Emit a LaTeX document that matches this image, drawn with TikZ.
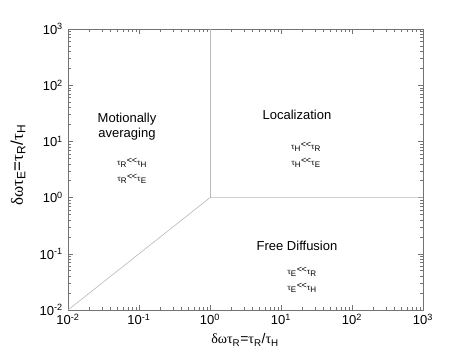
\documentclass[tikz,border=0pt]{standalone}
\usepackage{fontspec}
\setmainfont{Liberation Sans}
\newfontfamily\grk{Liberation Serif}
\usetikzlibrary{positioning}

\tikzset{
  frame/.style={draw=black!55, line width=0.6pt},
  tick/.style={draw=black!55, line width=0.5pt},
  bound/.style={draw=black!28, line width=0.6pt},
  ticklab/.style={font=\fontsize{13}{15}\selectfont, inner sep=1pt},
  axlab/.style={font=\fontsize{14}{16}\selectfont, inner sep=0pt},
  region/.style={font=\fontsize{13}{15}\selectfont, align=center, inner sep=0pt},
  rel/.style={font=\fontsize{11.5}{16}\selectfont, align=center, inner sep=0pt},
}
\newcommand{\dec}[1]{10\textsuperscript{#1}}
\newcommand{\rlt}[2]{{\grk\small τ}\textsubscript{#1}\raisebox{0.3ex}{\small{<}\kern-0.5pt{<}}{\grk\small τ}\textsubscript{#2}}

\begin{document}
\begin{tikzpicture}[x=1pt,y=-1pt]
\useasboundingbox (0,0) rectangle (474,358);
\begin{scope}[shift={(68,310)},x=71pt,y=56.2pt]
  % axes box
  \draw[frame] (0,0) rectangle (5,5);
  % ticks
  \foreach \k in {1,...,4} {
    \draw[tick] (\k,0) -- ++(0pt,5pt);
    \draw[tick] (\k,5) -- ++(0pt,-5pt);
    \draw[tick] (0,\k) -- ++(5pt,0pt);
    \draw[tick] (5,\k) -- ++(-5pt,0pt);
  }
  \foreach \k in {0,...,4} {
    \foreach \m in {2,...,9} {
      \pgfmathsetmacro\t{\k+log10(\m)}
      \draw[tick] (\t,0) -- ++(0pt,3pt);
      \draw[tick] (\t,5) -- ++(0pt,-3pt);
      \draw[tick] (0,\t) -- ++(3pt,0pt);
      \draw[tick] (5,\t) -- ++(-3pt,0pt);
    }
  }
  % tick labels
  \foreach \k/\e in {0/-2,1/-1,2/0,3/1,4/2,5/3} {
    \node[ticklab, below=3pt] (xl\k) at (\k,0) {\dec{\e}};
    \node[ticklab, left=4pt] (yl\k) at (0,\k) {\dec{\e}};
  }
  % regime boundaries
  \coordinate (lo) at (0,0);
  \coordinate (c) at (2,2);
  \coordinate (rt) at (5,2);
  \coordinate (up) at (2,5);
  \draw[bound] (lo) -- (c) -- (rt);
  \draw[bound] (c) -- (up);
\end{scope}

% axis labels
\node[axlab] (xlab) at (245,340) {{\grk δωτ}\textsubscript{R}={\grk τ}\textsubscript{R}/{\grk τ}\textsubscript{H}};
\node[axlab, rotate=90, font=\fontsize{17}{19}\selectfont] (ylab) at (18,165) {{\grk δωτ}\textsubscript{E}={\grk τ}\textsubscript{R}/{\grk τ}\textsubscript{H}};

% regions
\node[region] (mot) at (127,127) {Motionally\\averaging};
\node[rel] (motr) at (132,171) {\rlt{R}{H}\\\rlt{R}{E}};
\node[region] (loc) at (297,115) {Localization};
\node[rel] (locr) at (306,155) {\rlt{H}{R}\\\rlt{H}{E}};
\node[region] (free) at (297,246) {Free Diffusion};
\node[rel] (freer) at (302,280) {\rlt{E}{R}\\\rlt{E}{H}};
\end{tikzpicture}
\end{document}
